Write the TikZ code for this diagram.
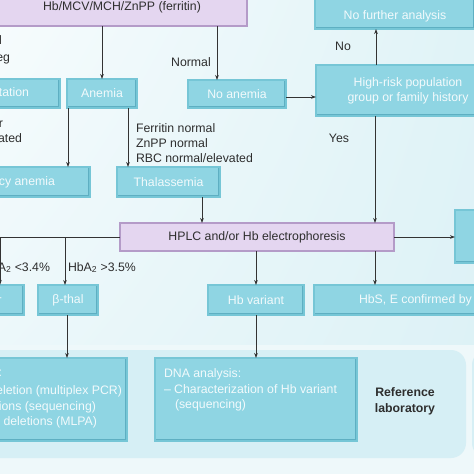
\documentclass[tikz,border=0pt]{standalone}
\usepackage{fontspec}
\setmainfont{Liberation Sans}
\usetikzlibrary{arrows.meta,calc,shadings}
\definecolor{boxfill}{HTML}{8FD5E3}
\definecolor{boxedge}{HTML}{76C6D6}
\definecolor{boxdark}{HTML}{5EAFC2}
\definecolor{boxtext}{HTML}{F2FAFC}
\definecolor{purpfill}{HTML}{E4D6F0}
\definecolor{purpedge}{HTML}{B49BC8}
\definecolor{labelcol}{HTML}{2E2E2E}
\definecolor{arrowcol}{HTML}{333333}
\definecolor{panelcol}{HTML}{D6EFF5}
\definecolor{lowbg}{HTML}{EEF8FA}
\definecolor{bgul}{HTML}{F7FCFD}
\definecolor{bgur}{HTML}{E0F3F7}
\definecolor{bgll}{HTML}{E8F6F9}
\definecolor{bglr}{HTML}{DCF1F6}
\begin{document}
\begin{tikzpicture}[x=1pt,y=-1pt,
  every node/.style={font=\fontsize{12.3}{15}\selectfont, inner sep=0pt, outer sep=0pt},
  cbox/.style={draw=boxedge, fill=boxfill, line width=1.4pt, text=boxtext,
    path picture={\draw[boxdark, line width=4pt]
      (path picture bounding box.south west) -- (path picture bounding box.south east)
      -- (path picture bounding box.north east);}},
  pbox/.style={draw=purpedge, fill=purpfill, line width=1.6pt, text=labelcol},
  lbl/.style={text=labelcol},
  wtxt/.style={text=boxtext},
  arr/.style={draw=arrowcol, line width=0.7pt, -{Stealth[length=5pt,width=3.6pt]}}
]
\useasboundingbox (0,0) rectangle (474,474);
\clip (0,0) rectangle (474,474);
% background
\shade[upper left=bgul, upper right=bgur, lower left=bgll, lower right=bglr]
  (0,0) rectangle (474,474);
\fill[lowbg] (0,345) rectangle (474,474);
\fill[panelcol, rounded corners=15pt] (-30,350) rectangle (466,458);
\fill[panelcol, rounded corners=15pt] (472,350) rectangle (540,458);

% boxes
\node[pbox, minimum width=250, minimum height=38] (top) at (122,7) {Hb/MCV/MCH/ZnPP (ferritin)};
\node[cbox, anchor=south, minimum width=160, text height=20pt, text depth=2.6pt, inner ysep=7pt] (nofurther) at (395,29) {No further analysis};
\node[cbox, minimum width=184, minimum height=51, align=center] (highrisk) at (408,90.5) {High-risk population\\group or family history};
\node[cbox, minimum width=98, minimum height=28] (noanemia) at (237,94) {No anemia};
\node[cbox, minimum width=70, minimum height=29] (anemia) at (102,93.5) {Anemia};
\node[cbox, anchor=east, inner xsep=31pt, minimum height=29] (suppl) at (60,93.5) {Iron supplementation};
\node[cbox, anchor=east, inner xsep=35pt, minimum height=30] (irondef) at (90,182) {Iron deficiency anemia};
\node[cbox, minimum width=103, minimum height=30] (thal) at (168.5,182) {Thalassemia};
\node[pbox, minimum width=274, minimum height=28] (hplc) at (257,237) {HPLC and/or Hb electrophoresis};
\node[cbox, anchor=west, minimum width=100, minimum height=53] (rightbox) at (455,236.5) {};
\node[cbox, minimum width=60, minimum height=30] (betathal) at (68,300) {β-thal};
\node[cbox, anchor=east, inner xsep=22pt, minimum height=30] (leftbox) at (24,300) {-};
\node[cbox, minimum width=96, minimum height=30] (hbvar) at (256,300) {Hb variant};
\node[cbox, anchor=west, inner xsep=45pt, minimum height=30] (hbs) at (314,300) {HbS, E confirmed by DNA analysis};
\node[cbox, anchor=east, minimum width=300, minimum height=83] (dna1) at (127,399.5) {};
\node[cbox, minimum width=202, minimum height=83] (dna2) at (256,399.5) {};

% texts inside DNA boxes
\node[wtxt, anchor=base east] (d1a) at (2,376) {DNA analysis:};
\node[wtxt, anchor=base east] (d1b) at (122,394.4) {– Common α-thal deletion (multiplex PCR)};
\node[wtxt, anchor=base east] (d1c) at (96,410) {– β-thal mutations (sequencing)};
\node[wtxt, anchor=base east] (d1d) at (97,425.4) {– Rare α- and β-thal deletions (MLPA)};
\node[wtxt, anchor=base west] (d2a) at (164,377.4) {DNA analysis:};
\node[wtxt, anchor=base west] (d2b) at (164,393.4) {– Characterization of Hb variant};
\node[wtxt, anchor=base west] (d2c) at (175,408.4) {(sequencing)};
\node[lbl, align=center, font=\fontsize{12.3}{16}\selectfont\bfseries] (reflab) at (405,401) {Reference\\laboratory};

% labels
\node[lbl, anchor=base] (lnormal) at (191,66.4) {Normal};
\node[lbl, anchor=base] (lno) at (343,50.4) {No};
\node[lbl, anchor=base] (lyes) at (339,142.4) {Yes};
\node[lbl, anchor=base west] (lf1) at (136,132.4) {Ferritin normal};
\node[lbl, anchor=base west] (lf2) at (136,147.4) {ZnPP normal};
\node[lbl, anchor=base west] (lf3) at (136,162.4) {RBC normal/elevated};
\node[lbl, anchor=base east] (lt1) at (2,44) {Hb normal};
\node[lbl, anchor=base east] (lt2) at (10,61) {ZnPP neg};
\node[lbl, anchor=base east] (lm1) at (3,127) {Ferritin lower};
\node[lbl, anchor=base east] (lm2) at (22,142) {ZnPP elevated};
\node[lbl, anchor=base east] (lhb1) at (50,271) {HbA\textsubscript{2} <3.4\%};
\node[lbl, anchor=base west] (lhb2) at (68,271) {HbA\textsubscript{2} >3.5\%};

% connectors
\coordinate (pna) at ($(noanemia.north)+(-20,0)$);
\draw[arr] (top.south -| anemia.north) -- (anemia.north);
\draw[arr] (top.south -| pna) -- (pna);
\coordinate (p1) at ($(noanemia.east)+(0,3)$);
\draw[arr] (p1) -- (p1 -| highrisk.west);
\coordinate (p2) at ($(highrisk.north)+(-32,0)$);
\draw[arr] (p2) -- (p2 |- nofurther.south);
\coordinate (p3) at ($(anemia.south)+(-34,0)$);
\draw[arr] (p3) -- (p3 |- irondef.north);
\coordinate (p4) at ($(anemia.south)+(26,0)$);
\draw[arr] (p4) -- (p4 |- thal.north);
\coordinate (p5) at ($(thal.south)+(33.5,0)$);
\draw[arr] (p5) -- (p5 |- hplc.north);
\coordinate (p6) at ($(highrisk.south)+(-33,0)$);
\draw[arr] (p6) -- (p6 |- hplc.north);
\draw[arr] (hplc.east) -- (hplc.east -| rightbox.west);
\draw[arr] (hplc.west) -| (leftbox.north);
\coordinate (p7) at ($(betathal.north)+(-3,0)$);
\draw[arr] (hplc.west -| p7) -- (p7);
\draw[arr] (hplc.south -| hbvar.north) -- (hbvar.north);
\draw[arr] (hplc.south -| p6) -- (p6 |- hbs.north);
\coordinate (p9) at ($(betathal.south)+(-1,0)$);
\draw[arr] (p9) -- (p9 |- dna1.north);
\draw[arr] (hbvar.south) -- (hbvar.south |- dna2.north);
\end{tikzpicture}
\end{document}
